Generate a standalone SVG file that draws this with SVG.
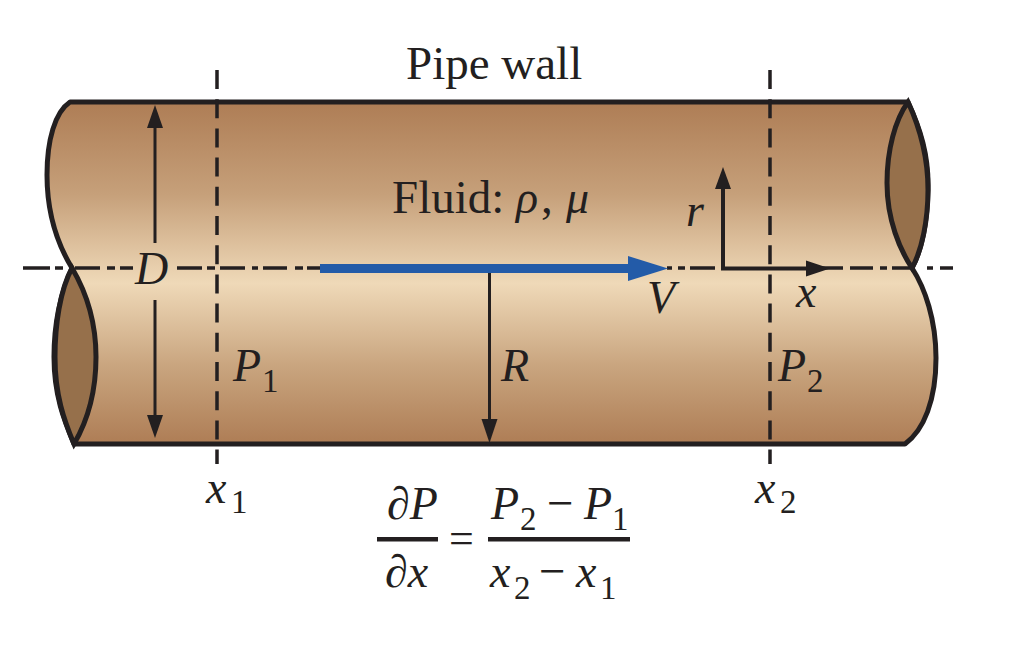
<svg xmlns="http://www.w3.org/2000/svg" width="1014" height="652" viewBox="0 0 1014 652">
<style>
.t{font-family:"Liberation Serif","Times New Roman",serif;fill:#231f20;font-size:47px}
.i{font-style:italic;font-size:46px}
.s{font-size:33px}
.w{fill:#96704b;stroke:#231f20;stroke-width:5}
.l{fill:none;stroke:#231f20;stroke-width:3}
.d{fill:none;stroke:#231f20;stroke-width:3.5;stroke-dasharray:19 10.200}
.c{fill:none;stroke:#231f20;stroke-width:3.5}
.k{fill:#231f20}
</style>
<defs>
<linearGradient id="pipe" x1="0" y1="102" x2="0" y2="444" gradientUnits="userSpaceOnUse">
<stop offset="0" stop-color="#ae7d55"/>
<stop offset="0.27" stop-color="#c6a07a"/>
<stop offset="0.53" stop-color="#efd9b8"/>
<stop offset="0.77" stop-color="#c9a57f"/>
<stop offset="1" stop-color="#ae7d55"/>
</linearGradient>
</defs>
<g id="pipe-body">
<path d="M70 102H908C920 128 929 155 928 190C927 225 922 250 912 268C925 288 936 320 936 358C936 400 924 430 905 444H74C64 420 54 395 54 357C54 320 62 290 72 268C58 245 47 215 47 175C47 140 55 112 70 102Z" fill="url(#pipe)" stroke="#231f20" stroke-width="5" stroke-linejoin="round"/>
</g>
<g id="pipe-openings">
<path class="w" d="M72 268C60 290 55 325 55 357C55 395 64 420 74 444C88 420 96 390 96 357C96 320 85 290 72 268Z"/>
<path class="w" d="M908 102C895 120 887 150 887 183C887 220 900 250 912 268C922 250 928 220 928 190C928 155 920 128 908 102Z"/>
</g>
<g id="connectors">
<path class="d" d="M217 70V464"/>
<path class="d" d="M770 70V464"/>
<path class="c" d="M23 268H50M55 268H63M75 268H100M107 268H115M120 268H133M177 268H202M207 268H215M220 268H245M252 268H258M263 268H287M295 268H303M307 268H320M667 268H672M678 268H685M690 268H715M810 268H843M850 268H873M880 268H887M892 268H912M927 268H933M940 268H953"/>
<path class="l" d="M155 124V243"/>
<polygon class="k" points="155,105 147,128 163,128"/>
<path class="l" d="M155 300V420"/>
<polygon class="k" points="155,438 147,415 163,415"/>
<path class="l" d="M489.5 273V425"/>
<polygon class="k" points="489.5,443 481.500,419 497.500,419"/>
<path fill="none" stroke="#231f20" stroke-width="4" d="M723 185V268.500H810"/>
<polygon class="k" points="723,167 715,189 731,189"/>
<polygon class="k" points="830,268.500 806,260.500 806,276.500"/>
<path fill="none" stroke="#235ba8" stroke-width="9" d="M320 268.500H630"/>
<polygon fill="#235ba8" points="668,268.500 628,256 628,281"/>
</g>
<g id="labels">
<text class="t" x="406" y="79">Pipe wall</text>
<text class="t" x="392" y="213">Fluid: <tspan class="i" x="516">ρ</tspan><tspan x="541">,</tspan> <tspan class="i" x="566">μ</tspan></text>
<text class="t i" x="135" y="284">D</text>
<text class="t i" x="686" y="226">r</text>
<text class="t i" x="647" y="313">V</text>
<text class="t i" x="796" y="307">x</text>
<text class="t i" x="501" y="381">R</text>
<text class="t i" x="233" y="381">P</text><text class="t s" x="262" y="392">1</text>
<text class="t i" x="778" y="381">P</text><text class="t s" x="807" y="392">2</text>
<text class="t i" x="206" y="503">x</text><text class="t s" x="231" y="513">1</text>
<text class="t i" x="755" y="503">x</text><text class="t s" x="780" y="513">2</text>
</g>
<g id="formula">
<text class="t i" x="387" y="519">∂P</text>
<text class="t i" x="385" y="587">∂x</text>
<rect class="k" x="377" y="537" width="61" height="4.500"/>
<text class="t" x="449" y="553" style="font-size:44px">=</text>
<rect class="k" x="488" y="537" width="142" height="4.500"/>
<text class="t i" x="491" y="519">P</text><text class="t s" x="520" y="530">2</text>
<text class="t" x="547" y="519">−</text>
<text class="t i" x="584" y="519">P</text><text class="t s" x="612" y="530">1</text>
<text class="t i" x="490" y="587">x</text><text class="t s" x="514" y="599">2</text>
<text class="t" x="539" y="587">−</text>
<text class="t i" x="576" y="587">x</text><text class="t s" x="600" y="599">1</text>
</g>
</svg>
